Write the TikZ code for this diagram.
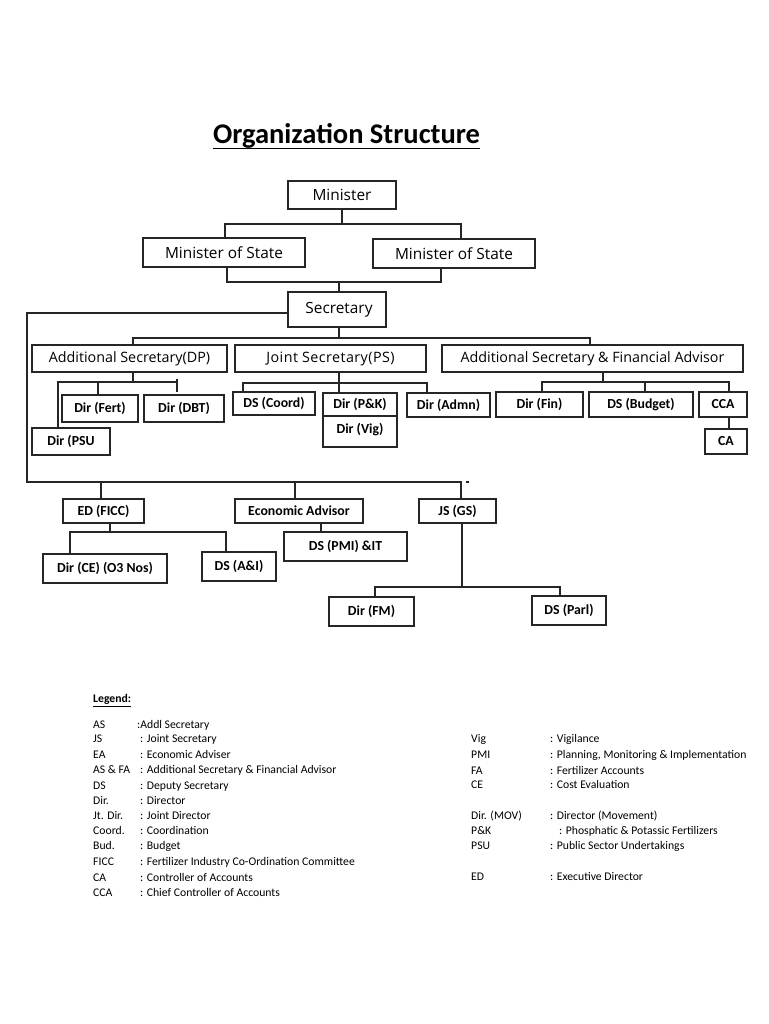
\documentclass[tikz,border=0pt]{standalone}
\usepackage{fontspec}
\setmainfont{Open Sans}
\newfontfamily\calfont{Carlito}
\begin{document}
\begin{tikzpicture}[x=1pt,y=-1pt,
  bx/.style={draw=black!85, line width=1.1pt, inner sep=0pt, align=center, text=black},
  topbox/.style={bx, font=\fontsize{15.4}{18}\selectfont},
  midbox/.style={bx, font=\fontsize{14.3}{17}\selectfont},
  dirbox/.style={bx, font=\calfont\bfseries\fontsize{13.8}{16}\selectfont},
  ln/.style={draw=black!85, line width=1.1pt},
  lg/.style={anchor=mid west, inner sep=0pt, font=\calfont\fontsize{11.7}{13}\selectfont},
]
\useasboundingbox (0,0) rectangle (768,1024);
\fill[white] (0,0) rectangle (768,1024);

% title
\node[anchor=base, inner sep=0pt, font=\calfont\bfseries\fontsize{28.5}{33}\selectfont] (title) at (346.5,143.5) {Organization Structure};
\draw[line width=1.6pt] (title.base west) ++(0,5) coordinate (u1) (title.base east) ++(0,5) coordinate (u2);
\draw[line width=1.6pt] (u1) -- (u2);

% top boxes
\node[topbox, minimum width=108pt, minimum height=28pt] (min) at (342,195) {Minister};
\node[topbox, minimum width=162pt, minimum height=29pt] (mosL) at (224,252.5) {Minister of State};
\node[topbox, minimum width=162pt, minimum height=29pt] (mosR) at (454,253.5) {Minister of State};
\node[topbox, minimum width=98pt, minimum height=35pt] (sec) at (337,309.5) {\hspace*{4pt}Secretary};

% second row
\node[midbox, minimum width=195pt, minimum height=27pt] (asdp) at (129.5,358.5) {Additional Secretary(DP)};
\node[midbox, minimum width=191pt, minimum height=27pt] (jsps) at (330.5,358.5) {\addfontfeature{LetterSpace=3}Joint Secretary(PS)};
\node[midbox, minimum width=301pt, minimum height=27pt] (asfa) at (592.5,358.5) {Additional Secretary \& Financial Advisor};

% directors
\node[dirbox, minimum width=76pt, minimum height=27pt] (fert) at (100,408.5) {Dir (Fert)};
\node[dirbox, minimum width=80pt, minimum height=27pt] (dbt) at (184,408.5) {Dir (DBT)};
\node[dirbox, minimum width=78pt, minimum height=27pt] (psu) at (71,441.5) {Dir (PSU};
\node[dirbox, minimum width=82pt, minimum height=23pt] (coord) at (274,403.5) {DS (Coord)};
\node[dirbox, minimum width=74pt, minimum height=23pt] (pk) at (360,404.5) {Dir (P\&K)};
\node[dirbox, minimum width=74pt, minimum height=31pt, text depth=6pt] (vig) at (360,431.5) {Dir (Vig)};
\node[dirbox, minimum width=83pt, minimum height=24pt] (admn) at (448.5,405) {Dir (Admn)};
\node[dirbox, minimum width=87pt, minimum height=25pt] (fin) at (539.5,404.5) {Dir (Fin)};
\node[dirbox, minimum width=104pt, minimum height=25pt] (bud) at (641,404.5) {DS (Budget)};
\node[dirbox, minimum width=48pt, minimum height=25pt] (cca) at (723,404.5) {CCA};
\node[dirbox, minimum width=42pt, minimum height=25pt] (ca) at (726,441.5) {CA};

% lower
\node[dirbox, minimum width=81pt, minimum height=24pt] (ficc) at (103.5,511) {ED (FICC)};
\node[dirbox, minimum width=128pt, minimum height=24pt] (ea) at (299,511) {Economic Advisor};
\node[dirbox, minimum width=77pt, minimum height=24pt] (jsgs) at (457.5,511) {JS (GS)};
\node[dirbox, minimum width=124pt, minimum height=29pt] (ce) at (105,568.5) {Dir (CE) (O3 Nos)};
\node[dirbox, minimum width=74pt, minimum height=29pt] (ai) at (239,566.5) {DS (A\&I)};
\node[dirbox, minimum width=123pt, minimum height=29pt] (pmi) at (345.5,546.5) {DS (PMI) \&IT};
\node[dirbox, minimum width=85pt, minimum height=29pt] (fm) at (371.5,611.5) {Dir (FM)};
\node[dirbox, minimum width=74pt, minimum height=29pt] (parl) at (569,610.5) {DS (Parl)};

% junction coordinates
\coordinate (j1) at (342,224);
\coordinate (j1L) at (225,224);
\coordinate (j1R) at (461,224);
\coordinate (j2L) at (227,282);
\coordinate (j2R) at (441,282);
\coordinate (j2M) at (339,282);
\coordinate (j3) at (339,338);
\coordinate (j3L) at (133,338);
\coordinate (j3R) at (590,338);
\coordinate (k1) at (27,313);
\coordinate (k2) at (27,482);
\coordinate (k3) at (461,482);
\coordinate (k4) at (101,482);
\coordinate (k5) at (295,482);
\coordinate (d1) at (466,482);
\coordinate (d2) at (468.5,482);
\coordinate (a1) at (133,382);
\coordinate (a1L) at (58,382);
\coordinate (a1F) at (98,382);
\coordinate (a1T) at (177,379);
\coordinate (a1B) at (177,392);
\coordinate (b1) at (339,383);
\coordinate (b1L) at (243,383);
\coordinate (b1R) at (427,383);
\coordinate (c1) at (603,382);
\coordinate (c1L) at (542,382);
\coordinate (c1M) at (645,382);
\coordinate (c1R) at (729,382);
\coordinate (e1) at (110,532);
\coordinate (e1L) at (70,532);
\coordinate (e1R) at (226,532);
\coordinate (f1) at (321,523);
\coordinate (g1) at (462,587);
\coordinate (g1L) at (375,587);
\coordinate (g1R) at (560,587);

% connectors
\draw[ln] (min.south) -- (j1);
\draw[ln] (j1L |- mosL.north) -- (j1L) -- (j1R) -- (j1R |- mosR.north);
\draw[ln] (j2L |- mosL.south) -- (j2L) -- (j2R) -- (j2R |- mosR.south);
\draw[ln] (j2M) -- (j2M |- sec.north);
\draw[ln] (sec.west |- k1) -- (k1) -- (k2) -- (k3) -- (k3 |- jsgs.north);
\draw[ln] (k4) -- (k4 |- ficc.north);
\draw[ln] (k5) -- (k5 |- ea.north);
\draw[ln] (d1) -- (d2);
\draw[ln] (j3 |- sec.south) -- (j3);
\draw[ln] (j3L |- asdp.north) -- (j3L) -- (j3R) -- (j3R |- asfa.north);
% AS(DP)
\draw[ln] (a1 |- asdp.south) -- (a1);
\draw[ln] (psu.north -| a1L) -- (a1L) -- (a1T |- a1L);
\draw[ln] (a1F) -- (a1F |- fert.north);
\draw[ln] (a1T) -- (a1B);
% JS(PS)
\draw[ln] (b1 |- jsps.south) -- (b1);
\draw[ln] (b1L |- coord.north) -- (b1L) -- (b1R) -- (b1R |- admn.north);
\draw[ln] (b1) -- (b1 |- pk.north);
% AS&FA
\draw[ln] (c1 |- asfa.south) -- (c1);
\draw[ln] (c1L |- fin.north) -- (c1L) -- (c1R) -- (c1R |- cca.north);
\draw[ln] (c1M) -- (c1M |- bud.north);
\draw[ln] (c1R |- cca.south) -- (c1R |- ca.north);
% ED(FICC)
\draw[ln] (e1 |- ficc.south) -- (e1);
\draw[ln] (e1L |- ce.north) -- (e1L) -- (e1R) -- (e1R |- ai.north);
% EA
\draw[ln] (f1 |- ea.south) -- (f1 |- pmi.north);
% JS(GS)
\draw[ln] (g1 |- jsgs.south) -- (g1);
\draw[ln] (g1L |- fm.north) -- (g1L) -- (g1R) -- (g1R |- parl.north);

% legend
\node[lg, font=\calfont\bfseries\fontsize{11.7}{13}\selectfont] (leg) at (93,700) {\underline{Legend:}};
\node[lg] (l1a) at (93,726) {AS};       \node[lg] (l1b) at (137,726) {:Addl Secretary};
\node[lg] (l2a) at (93,740) {JS};       \node[lg] (l2b) at (140,740) {: Joint Secretary};
\node[lg] (l3a) at (93,756) {EA};       \node[lg] (l3b) at (140,756) {: Economic Adviser};
\node[lg] (l4a) at (93,771) {AS \& FA}; \node[lg] (l4b) at (140,771) {: Additional Secretary \& Financial Advisor};
\node[lg] (l5a) at (93,787) {DS};       \node[lg] (l5b) at (140,787) {: Deputy Secretary};
\node[lg] (l6a) at (93,802) {Dir.};     \node[lg] (l6b) at (140,802) {: Director};
\node[lg] (l7a) at (93,817) {Jt. Dir.}; \node[lg] (l7b) at (140,817) {: Joint Director};
\node[lg] (l8a) at (93,832) {Coord.};   \node[lg] (l8b) at (140,832) {: Coordination};
\node[lg] (l9a) at (93,847) {Bud.};     \node[lg] (l9b) at (140,847) {: Budget};
\node[lg] (l10a) at (93,863) {FICC};    \node[lg] (l10b) at (140,863) {: Fertilizer Industry Co-Ordination Committee};
\node[lg] (l11a) at (93,879) {CA};      \node[lg] (l11b) at (140,879) {: Controller of Accounts};
\node[lg] (l12a) at (93,894) {CCA};     \node[lg] (l12b) at (140,894) {: Chief Controller of Accounts};

\node[lg] (r1a) at (471,740) {Vig};        \node[lg] (r1b) at (550,740) {: Vigilance};
\node[lg] (r2a) at (471,756) {PMI};        \node[lg] (r2b) at (550,756) {: Planning, Monitoring \& Implementation};
\node[lg] (r3a) at (471,772) {FA};         \node[lg] (r3b) at (550,772) {: Fertilizer Accounts};
\node[lg] (r4a) at (471,786) {CE};         \node[lg] (r4b) at (550,786) {: Cost Evaluation};
\node[lg] (r5a) at (471,817) {Dir. (MOV)}; \node[lg] (r5b) at (550,817) {: Director (Movement)};
\node[lg] (r6a) at (471,832) {P\&K};       \node[lg] (r6b) at (559,832) {: Phosphatic \& Potassic Fertilizers};
\node[lg] (r7a) at (471,847) {PSU};        \node[lg] (r7b) at (550,847) {: Public Sector Undertakings};
\node[lg] (r8a) at (471,878) {ED};         \node[lg] (r8b) at (550,878) {: Executive Director};
\end{tikzpicture}
\end{document}
